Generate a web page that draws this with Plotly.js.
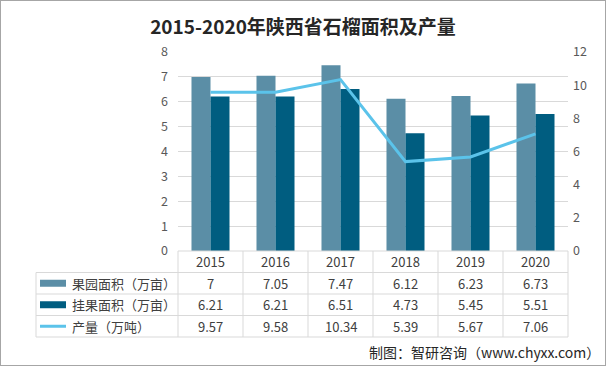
<!DOCTYPE html>
<html><head><meta charset="utf-8">
<script src="https://cdn.plot.ly/plotly-3.0.1.min.js"></script>
<style>
html,body{margin:0;padding:0;background:#fff;}
#wrap{width:604px;height:364px;border:1px solid #a6a6a6;}
#chart{width:604px;height:364px;}
</style></head>
<body><div id="wrap"><div id="chart"></div></div>
<script>
const years = ['2015','2016','2017','2018','2019','2020'];
const orchardArea = [7, 7.05, 7.47, 6.12, 6.23, 6.73];
const bearingArea = [6.21, 6.21, 6.51, 4.73, 5.45, 5.51];
const output = [9.57, 9.58, 10.34, 5.39, 5.67, 7.06];
const seriesNames = ['果园面积（万亩）', '挂果面积（万亩）', '产量（万吨）'];
const titleText = '2015-2020年陕西省石榴面积及产量';
const sourceText = '制图：智研咨询（www.chyxx.com）';

const W = 604, H = 364;
const mL = 177, mR = 37, mT = 51, mB = 114;
const pw = W - mL - mR, ph = H - mT - mB;
const px = x => (x - mL) / pw;          // div px -> paper x
const py = y => (H - mB - y) / ph;      // div px -> paper y

const c1 = '#5b8ea6', c2 = '#005d80', c3 = '#5bc3ea';
const gridC = '#d9d9d9', txtC = '#404040';
const FONT = '"Noto Sans CJK SC", "Noto Sans", sans-serif';

const traces = [
  {type:'bar', x: years, y: orchardArea, name: seriesNames[0], marker:{color:c1}, yaxis:'y'},
  {type:'bar', x: years, y: bearingArea, name: seriesNames[1], marker:{color:c2}, yaxis:'y'},
  {type:'scatter', mode:'lines', x: years, y: output, name: seriesNames[2], line:{color:c3, width:3}, yaxis:'y2'}
];

const colX = i => (i + 0.5) / years.length;   // paper x of column center

// table geometry (div px)
const tTop = 250, rowH = 21.5;
const rows = [tTop, tTop+rowH, tTop+2*rowH, tTop+3*rowH, tTop+4*rowH];
const labelLeft = 35;
const shapes = [];
const annotations = [];
const lineS = {color: gridC, width: 1};
shapes.push({type:'line', xref:'paper', yref:'paper', x0:0, x1:1, y0:py(rows[0]), y1:py(rows[0]), line:lineS});
for (let i = 1; i < rows.length; i++) {
  shapes.push({type:'line', xref:'paper', yref:'paper', x0:px(labelLeft), x1:1, y0:py(rows[i]), y1:py(rows[i]), line:lineS});
}
shapes.push({type:'line', xref:'paper', yref:'paper', x0:px(labelLeft), x1:px(labelLeft), y0:py(rows[1]), y1:py(rows[4]), line:lineS});
for (let k = 0; k <= years.length; k++) {
  const xx = k / years.length;
  shapes.push({type:'line', xref:'paper', yref:'paper', x0:xx, x1:xx, y0:py(rows[0]), y1:py(rows[4]), line:lineS});
}
years.forEach((yr, i) => {
  annotations.push({xref:'paper', yref:'paper', x: colX(i), y: py((rows[0]+rows[1])/2), text: yr, showarrow:false,
    xanchor:'center', yanchor:'middle', font:{size:13, color:txtC, family:FONT}});
});
const tableData = [orchardArea, bearingArea, output];
tableData.forEach((arr, r) => {
  const ycen = (rows[r+1]+rows[r+2])/2;
  const cy = py(ycen);
  arr.forEach((v, i) => {
    annotations.push({xref:'paper', yref:'paper', x: colX(i), y: cy, text: String(v), showarrow:false,
      xanchor:'center', yanchor:'middle', font:{size:13, color:txtC, family:FONT}});
  });
  annotations.push({xref:'paper', yref:'paper', x: px(69), y: cy, text: seriesNames[r], showarrow:false,
    xanchor:'left', yanchor:'middle', font:{size:13, color:txtC, family:FONT}});
  if (r < 2) {
    shapes.push({type:'rect', xref:'paper', yref:'paper', x0:px(39), x1:px(65), y0:py(ycen-3.5), y1:py(ycen+3.5),
      fillcolor: r===0?c1:c2, line:{width:0}});
  } else {
    shapes.push({type:'line', xref:'paper', yref:'paper', x0:px(39), x1:px(65), y0:py(ycen), y1:py(ycen),
      line:{color:c3, width:3}});
  }
});
annotations.push({xref:'paper', yref:'paper', x: px(601), y: py(351), text: sourceText, showarrow:false,
  xanchor:'right', yanchor:'middle', font:{size:14, color:'#262626', family:FONT}});

const layout = {
  width: W, height: H,
  margin: {l:mL, r:mR, t:mT, b:mB, pad:0},
  paper_bgcolor:'#fff', plot_bgcolor:'#fff',
  showlegend:false,
  barmode:'group', bargap:0.415, bargroupgap:0,
  title:{text: titleText, x:0.5, xref:'container', xanchor:'center', y: 1 - 26/H, yref:'container', yanchor:'middle',
    font:{size:19, color:'#262626', family:FONT, weight:'bold'}},
  xaxis:{type:'category', range:[-0.5, years.length-0.5], autorange:false, showticklabels:false, showgrid:false,
    zeroline:false, showline:false, ticks:''},
  yaxis:{range:[0,8], dtick:1, showgrid:true, gridcolor:gridC, gridwidth:1, zeroline:false, showline:false, ticks:'',
    ticklabelstandoff:9, tickfont:{size:12.5, color:'#595959', family:FONT}},
  yaxis2:{range:[0,12], dtick:2, overlaying:'y', side:'right', showgrid:false, zeroline:false, showline:false, ticks:'',
    ticklabelstandoff:4, tickfont:{size:12.5, color:'#595959', family:FONT}},
  shapes: shapes,
  annotations: annotations
};
Plotly.newPlot('chart', traces, layout, {displayModeBar:false, staticPlot:true});
</script></body></html>
